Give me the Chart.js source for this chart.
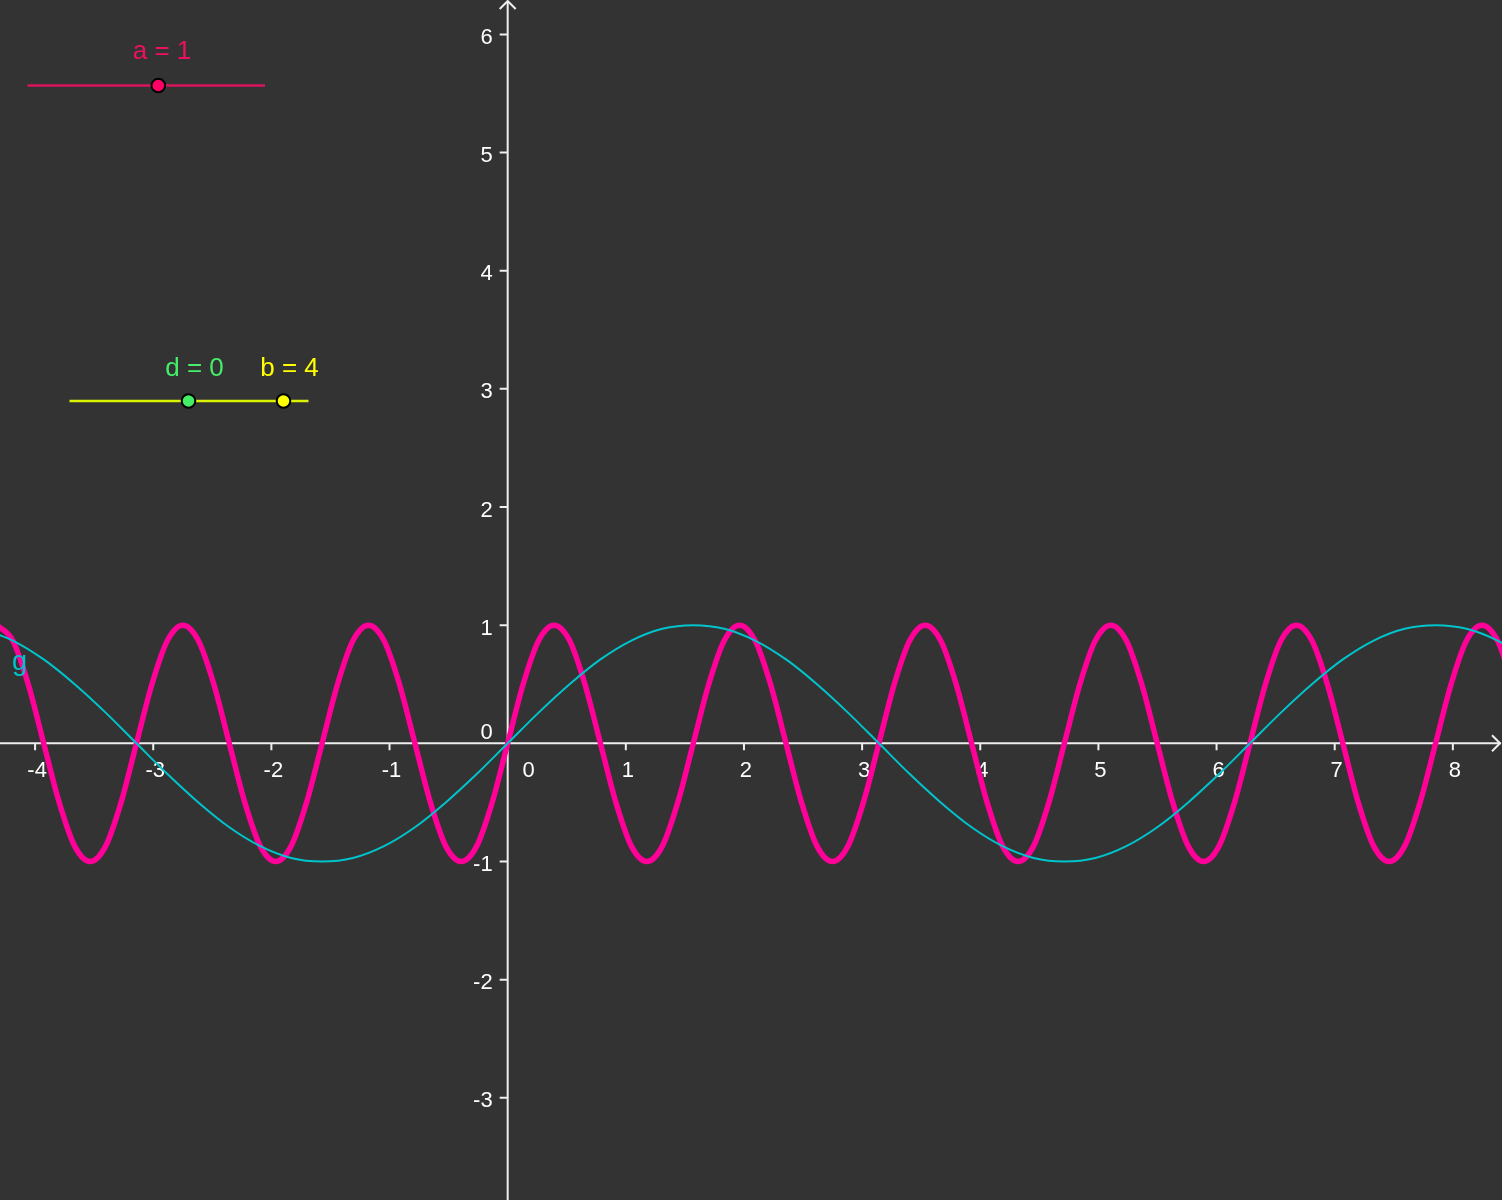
<!DOCTYPE html>
<html><head><meta charset="utf-8">
<script src="https://cdn.jsdelivr.net/npm/chart.js@4.4.0/dist/chart.umd.min.js"></script>
<style>html,body{margin:0;padding:0;background:#333333;overflow:hidden}#wrap{width:1502px;height:1200px}</style>
</head><body><div id="wrap"><canvas id="c" width="1502" height="1200"></canvas></div>
<script>
// f(x): thick pink curve
const pinkX = [-4.320,-4.189,-4.058,-3.927,-3.796,-3.665,-3.534,-3.403,-3.272,-3.142,-3.011,-2.880,
  -2.749,-2.618,-2.487,-2.356,-2.225,-2.094,-1.963,-1.833,-1.702,-1.571,-1.440,-1.309,
  -1.178,-1.047,-0.916,-0.785,-0.654,-0.524,-0.393,-0.262,-0.131,0,0.131,0.262,
  0.393,0.524,0.654,0.785,0.916,1.047,1.178,1.309,1.440,1.571,1.702,1.833,
  1.963,2.094,2.225,2.356,2.487,2.618,2.749,2.880,3.011,3.142,3.272,3.403,
  3.534,3.665,3.796,3.927,4.058,4.189,4.320,4.451,4.581,4.712,4.843,4.974,
  5.105,5.236,5.367,5.498,5.629,5.760,5.890,6.021,6.152,6.283,6.414,6.545,
  6.676,6.807,6.938,7.069,7.199,7.330,7.461,7.592,7.723,7.854,7.985,8.116,
  8.247,8.378,8.508];
const pinkY = [1,0.87,0.5,0,-0.5,-0.87,-1,-0.87,-0.5,0,0.5,0.87,
  1,0.87,0.5,0,-0.5,-0.87,-1,-0.87,-0.5,0,0.5,0.87,
  1,0.87,0.5,0,-0.5,-0.87,-1,-0.87,-0.5,0,0.5,0.87,
  1,0.87,0.5,0,-0.5,-0.87,-1,-0.87,-0.5,0,0.5,0.87,
  1,0.87,0.5,0,-0.5,-0.87,-1,-0.87,-0.5,0,0.5,0.87,
  1,0.87,0.5,0,-0.5,-0.87,-1,-0.87,-0.5,0,0.5,0.87,
  1,0.87,0.5,0,-0.5,-0.87,-1,-0.87,-0.5,0,0.5,0.87,
  1,0.87,0.5,0,-0.5,-0.87,-1,-0.87,-0.5,0,0.5,0.87,
  1,0.87,0.5];
// g(x): thin cyan curve
const cyanX = [-4.451,-4.189,-3.927,-3.665,-3.403,-3.142,-2.880,-2.618,-2.356,-2.094,-1.833,-1.571,
  -1.309,-1.047,-0.785,-0.524,-0.262,0,0.262,0.524,0.785,1.047,1.309,1.571,
  1.833,2.094,2.356,2.618,2.880,3.142,3.403,3.665,3.927,4.189,4.451,4.712,
  4.974,5.236,5.498,5.760,6.021,6.283,6.545,6.807,7.069,7.330,7.592,7.854,
  8.116,8.378,8.639];
const cyanY = [0.97,0.87,0.71,0.5,0.26,0,-0.26,-0.5,-0.71,-0.87,-0.97,-1,
  -0.97,-0.87,-0.71,-0.5,-0.26,0,0.26,0.5,0.71,0.87,0.97,1,
  0.97,0.87,0.71,0.5,0.26,0,-0.26,-0.5,-0.71,-0.87,-0.97,-1,
  -0.97,-0.87,-0.71,-0.5,-0.26,0,0.26,0.5,0.71,0.87,0.97,1,
  0.97,0.87,0.71];
const xTicks = [-4,-3,-2,-1,0,1,2,3,4,5,6,7,8];
const yTicks = [-3,-2,-1,0,1,2,3,4,5,6];
const sliderA = {name:'a', value:1};
const sliderD = {name:'d', value:0};
const sliderB = {name:'b', value:4};
const curveLabel = 'g';

const FONT = '"Liberation Sans", Arial, sans-serif';

const ggPlugin = {
  id: 'gg',
  beforeDraw(chart) {
    const ctx = chart.ctx;
    ctx.save();
    ctx.fillStyle = '#333333';
    ctx.fillRect(0, 0, chart.width, chart.height);
    ctx.restore();
  },
  beforeDatasetsDraw(chart) {
    const {ctx, scales: {x, y}} = chart;
    const ox = x.getPixelForValue(0), oy = y.getPixelForValue(0);
    const W = chart.width, H = chart.height;
    ctx.save();
    ctx.strokeStyle = '#eeeeee';
    ctx.lineWidth = 2;
    ctx.lineCap = 'butt';
    // axes
    ctx.beginPath();
    ctx.moveTo(0, oy); ctx.lineTo(W - 1, oy);
    ctx.moveTo(ox, 1); ctx.lineTo(ox, H);
    ctx.stroke();
    // arrows
    ctx.beginPath();
    ctx.moveTo(W - 10, oy - 8); ctx.lineTo(W - 2, oy); ctx.lineTo(W - 10, oy + 8);
    ctx.moveTo(ox - 8, 9); ctx.lineTo(ox, 1); ctx.lineTo(ox + 8, 9);
    ctx.stroke();
    // ticks
    ctx.beginPath();
    xTicks.forEach(v => {
      if (v === 0) return;
      const px = x.getPixelForValue(v);
      ctx.moveTo(px, oy); ctx.lineTo(px, oy + 7);
    });
    yTicks.forEach(v => {
      if (v === 0) return;
      const py = y.getPixelForValue(v);
      ctx.moveTo(ox - 8, py); ctx.lineTo(ox, py);
    });
    ctx.stroke();
    // labels
    ctx.fillStyle = '#ffffff';
    ctx.font = '22px ' + FONT;
    ctx.textBaseline = 'alphabetic';
    ctx.textAlign = 'center';
    xTicks.forEach(v => {
      const px = v === 0 ? ox + 21 : x.getPixelForValue(v) + 2;
      ctx.fillText(String(v), px, oy + 33.5);
    });
    ctx.textAlign = 'right';
    yTicks.forEach(v => {
      if (v === 0) { ctx.fillText('0', ox - 15, oy - 4.5); return; }
      const py = y.getPixelForValue(v);
      ctx.fillText(String(v), ox - 15, py + 9.5);
    });
    ctx.restore();
  },
  afterDatasetsDraw(chart) {
    const ctx = chart.ctx;
    ctx.save();
    // slider a
    ctx.strokeStyle = '#dc1460';
    ctx.lineWidth = 2.5;
    ctx.beginPath(); ctx.moveTo(27.5, 85.5); ctx.lineTo(265, 85.5); ctx.stroke();
    ctx.beginPath(); ctx.arc(158.3, 85.5, 6.8, 0, Math.PI * 2);
    ctx.fillStyle = '#ff0066'; ctx.fill();
    ctx.lineWidth = 2; ctx.strokeStyle = '#000000'; ctx.stroke();
    ctx.font = '26px ' + FONT;
    ctx.textAlign = 'center'; ctx.textBaseline = 'alphabetic';
    ctx.fillStyle = '#ee1060';
    ctx.fillText(sliderA.name + ' = ' + sliderA.value, 162, 59);
    // slider d / b
    ctx.strokeStyle = '#daf400';
    ctx.lineWidth = 2.5;
    ctx.beginPath(); ctx.moveTo(69.5, 401); ctx.lineTo(308.5, 401); ctx.stroke();
    ctx.beginPath(); ctx.arc(188.5, 401, 6.8, 0, Math.PI * 2);
    ctx.fillStyle = '#44ee66'; ctx.fill();
    ctx.lineWidth = 2; ctx.strokeStyle = '#000000'; ctx.stroke();
    ctx.beginPath(); ctx.arc(283.5, 401, 6.8, 0, Math.PI * 2);
    ctx.fillStyle = '#ffff00'; ctx.fill();
    ctx.lineWidth = 2; ctx.strokeStyle = '#000000'; ctx.stroke();
    ctx.fillStyle = '#44ee6a';
    ctx.fillText(sliderD.name + ' = ' + sliderD.value, 194.5, 376);
    ctx.fillStyle = '#ffff00';
    ctx.fillText(sliderB.name + ' = ' + sliderB.value, 289.5, 376);
    // curve label
    ctx.font = '27px ' + FONT;
    ctx.textAlign = 'left';
    ctx.fillStyle = '#00c4cc';
    ctx.fillText(curveLabel, 12, 670);
    ctx.restore();
  }
};

new Chart(document.getElementById('c'), {
  type: 'line',
  data: {
    datasets: [
      {
        label: 'f',
        data: pinkX.map((v, i) => ({x: v, y: pinkY[i]})),
        borderColor: '#ff0099',
        borderWidth: 5.5,
        pointRadius: 0,
        cubicInterpolationMode: 'monotone',
        borderCapStyle: 'round',
        borderJoinStyle: 'round',
        fill: false,
        order: 2
      },
      {
        label: 'g',
        data: cyanX.map((v, i) => ({x: v, y: cyanY[i]})),
        borderColor: '#00c4cc',
        borderWidth: 2,
        pointRadius: 0,
        cubicInterpolationMode: 'monotone',
        fill: false,
        order: 1
      }
    ]
  },
  options: {
    responsive: false,
    animation: false,
    events: [],
    layout: {padding: 0},
    plugins: {legend: {display: false}, tooltip: {enabled: false}, title: {display: false}},
    scales: {
      x: {type: 'linear', min: -4.297, max: 8.416, display: false},
      y: {type: 'linear', min: -3.865, max: 6.291, display: false}
    }
  },
  plugins: [ggPlugin]
});
</script>
</body></html>
